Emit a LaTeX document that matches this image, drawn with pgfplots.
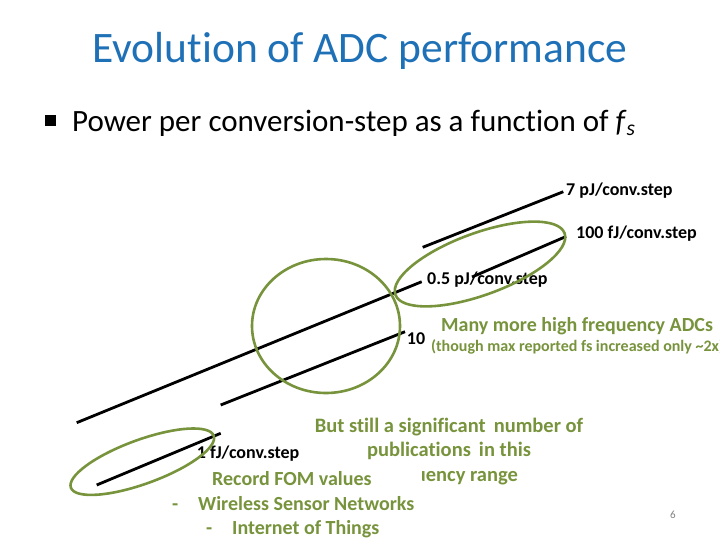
\documentclass[border=0pt]{standalone}
\usepackage{pgfplots}
\pgfplotsset{compat=1.18}
\usepackage{fontspec}
\setmainfont{Carlito}[Ligatures=NoCommon]
\definecolor{olivegr}{RGB}{119,147,60}
\definecolor{titleblue}{RGB}{31,113,183}
\begin{document}
\begin{tikzpicture}
\path[use as bounding box] (0,0) rectangle (720bp,540bp);
\begin{axis}[at={(0,0)},anchor=south west,scale only axis,width=720bp,height=540bp,
  xmin=0,xmax=720,ymin=0,ymax=540,y dir=reverse,hide axis,clip=false]
% title and bullet
\node[anchor=base,inner sep=0pt,text=titleblue,font=\fontsize{43.5bp}{50bp}\selectfont] at (axis cs:360,62.7) {Evolution of ADC performance};
\node[anchor=center,inner sep=0pt] at (axis cs:50.5,120.5) {\rule{11bp}{11bp}};
\node[anchor=base west,font=\fontsize{31bp}{36bp}\selectfont,inner sep=0pt] at (axis cs:72,131.7) {Power per conversion-step as a function of \textit{f}\textsubscript{\textit{s}}};
% FOM lines
\addplot[black,line width=2.8bp,no marks] coordinates {(422.7,247.3) (563.3,191.7)};
\addplot[black,line width=2.8bp,no marks] coordinates {(472,277) (566,236.5)};
\addplot[black,line width=2.8bp,no marks] coordinates {(76.7,422.7) (421.7,281.7)};
\addplot[black,line width=2.8bp,no marks] coordinates {(220.7,405) (405,331.7)};
\addplot[black,line width=2.8bp,no marks] coordinates {(96.7,485) (220.7,433.3)};
% labels
\node[anchor=west,inner sep=0pt,font=\fontsize{18bp}{21bp}\selectfont\bfseries] at (axis cs:566,191) {7 pJ/conv.step};
\node[anchor=west,inner sep=0pt,font=\fontsize{18bp}{21bp}\selectfont\bfseries] at (axis cs:576,234) {100 fJ/conv.step};
\node[anchor=west,inner sep=0pt,font=\fontsize{18bp}{21bp}\selectfont\bfseries] at (axis cs:427,280) {0.5 pJ/conv.step};
\node[anchor=west,inner sep=0pt,font=\fontsize{18bp}{21bp}\selectfont\bfseries] at (axis cs:406.7,340) {10 fJ/conv.step};
\node[anchor=west,inner sep=0pt,font=\fontsize{18bp}{21bp}\selectfont\bfseries] at (axis cs:196.7,453.3) {1 fJ/conv.step};
% green text boxes
\node[anchor=west,fill=white,inner xsep=0pt,inner ysep=4bp,text=olivegr,font=\fontsize{20bp}{23bp}\selectfont\bfseries] at (axis cs:426,326)
  {\hspace*{15bp}Many more high frequency ADCs};
\node[anchor=west,fill=white,inner xsep=0pt,inner ysep=4bp,text=olivegr,font=\fontsize{16bp}{19bp}\selectfont\bfseries] at (axis cs:426,347)
  {\hspace*{5bp}(though max reported fs increased only \textasciitilde 2x)};
\node[anchor=center,align=center,text=olivegr,font=\fontsize{20.5bp}{24.5bp}\selectfont\bfseries] at (axis cs:449,451.5)
  {But still a significant\, number of\\ publications\, in this\\ frequency range};
\node[anchor=west,fill=white,inner xsep=0pt,inner ysep=7bp,text=olivegr,font=\fontsize{20bp}{24bp}\selectfont\bfseries] at (axis cs:208,479)
  {\makebox[214bp][l]{\hspace*{4bp}Record FOM values}};
\node[anchor=base west,inner sep=0pt,text=olivegr,font=\fontsize{20bp}{24bp}\selectfont\bfseries] at (axis cs:172,510) {\makebox[26bp][l]{-}Wireless Sensor Networks};
\node[anchor=base west,inner sep=0pt,text=olivegr,font=\fontsize{20bp}{24bp}\selectfont\bfseries] at (axis cs:206,534) {\makebox[26bp][l]{-}Internet of Things};
% ellipses
\draw[olivegr,line width=2.6bp] (axis cs:326,326) ellipse [x radius=74bp, y radius=67bp];
\draw[olivegr,line width=2.6bp,rotate around={20:(axis cs:480,264)}] (axis cs:480,264) ellipse [x radius=90bp, y radius=31bp];
\draw[olivegr,line width=2.6bp,rotate around={20:(axis cs:142.3,461.7)}] (axis cs:142.3,461.7) ellipse [x radius=76bp, y radius=22bp];
% page number
\node[text=gray,font=\fontsize{11bp}{13bp}\selectfont] at (axis cs:673,515) {6};
\end{axis}
\end{tikzpicture}
\end{document}
